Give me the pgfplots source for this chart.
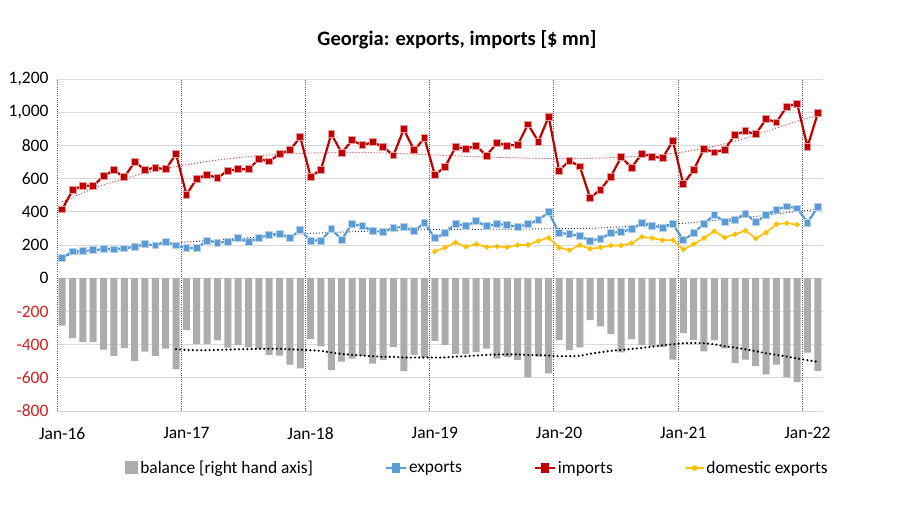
\documentclass[border=0pt]{standalone}
\usepackage{pgfplots}
\pgfplotsset{compat=1.18}
\usepackage{pgfplotstable}
\usepackage{fontspec}
\setmainfont{Carlito}
\definecolor{imp}{HTML}{C00000}
\definecolor{expc}{HTML}{5B9BD5}
\definecolor{dom}{HTML}{FFC000}
\definecolor{bal}{HTML}{AEABAB}
\definecolor{negred}{HTML}{D42020}
\definecolor{gridc}{HTML}{D9D9D9}
\definecolor{navy}{HTML}{1F3A6E}

\pgfplotstableread{
x imp exp dom bal
0 415 122 nan -285
1 530 161 nan -361
2 558 163 nan -385
3 556 169 nan -385
4 616 175 nan -431
5 650 173 nan -468
6 608 179 nan -421
7 700 189 nan -498
8 654 205 nan -443
9 666 197 nan -468
10 656 221 nan -425
11 748 197 nan -548
12 504 181 nan -313
13 598 181 nan -395
14 624 227 nan -395
15 604 215 nan -375
16 648 219 nan -419
17 656 241 nan -403
18 656 217 nan -417
19 718 241 nan -425
20 704 263 nan -462
21 748 267 nan -466
22 772 243 nan -520
23 849 289 nan -544
24 612 227 nan -367
25 654 227 nan -411
26 869 295 nan -554
27 754 233 nan -502
28 831 327 nan -484
29 801 315 nan -468
30 819 283 nan -514
31 791 281 nan -492
32 740 303 nan -413
33 897 309 nan -560
34 771 283 nan -462
35 843 335 nan -476
36 622 241 161 -377
37 672 271 185 -401
38 789 329 215 -458
39 781 315 189 -456
40 795 343 205 -446
41 739 313 187 -425
42 815 327 191 -484
43 799 321 187 -476
44 803 309 199 -492
45 927 325 201 -598
46 823 351 225 -472
47 973 397 243 -574
48 648 271 185 -373
49 708 267 169 -433
50 674 253 199 -417
51 484 227 177 -253
52 534 237 185 -291
53 612 273 197 -335
54 730 279 197 -447
55 666 295 211 -367
56 751 333 249 -403
57 732 317 241 -407
58 724 305 229 -413
59 827 327 229 -490
60 566 229 173 -331
61 652 271 205 -371
62 779 329 241 -441
63 758 381 283 -373
64 775 341 245 -423
65 865 353 265 -510
66 885 389 287 -490
67 867 339 239 -530
68 959 379 275 -580
69 939 413 325 -520
70 1034 433 331 -598
71 1052 421 323 -626
72 791 335 nan -449
73 995 429 nan -558
}\data

\pgfplotstableread{
x y
0 459
3 540
6 600
9 648
12 684
15 712
18 732
21 746
24 754
27 757
30 756
33 750
36 742
39 734
42 728
45 723
48 720
51 722
54 729
57 740
60 760
63 795
66 843
69 905
72 964
73 977
}\imptrend

\pgfplotstableread{
x y
0 131
3 163
7.5 195
11.4 215
17.5 241
23 267
29.5 283
35.8 293
42.3 295
48.8 299
51.3 301
54.5 311
57.7 321
60.9 335
64.1 355
67.4 375
70.6 399
73 415
}\exptrend

\pgfplotstableread{
x y
11 -428
12 -432
13 -434
14 -434
15 -432
16 -430
17 -428
18 -427
19 -426
20 -425
21 -425
22 -428
23 -431
24 -434
25 -438
26 -448
27 -456
28 -462
29 -466
30 -470
31 -474
32 -474
33 -478
34 -478
35 -478
36 -478
37 -478
38 -472
39 -470
40 -466
41 -462
42 -460
43 -459
44 -459
45 -463
46 -463
47 -466
48 -470
49 -470
50 -468
51 -455
52 -446
53 -438
54 -432
55 -426
56 -420
57 -413
58 -404
59 -398
60 -392
61 -390
62 -392
63 -398
64 -410
65 -418
66 -428
67 -440
68 -452
69 -462
70 -472
71 -484
72 -494
73 -504
}\balma

\begin{document}
\begin{tikzpicture}[x=1bp,y=1bp]
\useasboundingbox (0,0) rectangle (900,510);
\fill[white] (0,0) rectangle (900,510);
\node[font=\bfseries\fontsize{20.5bp}{24bp}\selectfont] at (457,470) {Georgia: exports, imports [\$ mn]};
\begin{axis}[
  at={(57bp,99bp)}, anchor=south west,
  scale only axis, width=766bp, height=332bp,
  xmin=-0.5, xmax=73.5, ymin=-800, ymax=1200,
  axis line style={draw=none},
  tick style={draw=none},
  ymajorgrids, grid style={gridc, line width=0.8bp},
  ytick={-800,-600,...,1200},
  yticklabels={\textcolor{negred}{-800},\textcolor{negred}{-600},\textcolor{negred}{-400},\textcolor{negred}{-200},0,200,400,600,800,{1,000},{1,200}},
  xtick={0,12,24,36,48,60,72},
  xticklabels={Jan-16,Jan-17,Jan-18,Jan-19,Jan-20,Jan-21,Jan-22},
  extra x ticks={-0.5,11.5,23.5,35.5,47.5,59.5,71.5},
  extra x tick labels={},
  extra x tick style={grid=major, major grid style={gray!75!black, line width=1bp, dash pattern=on 1bp off 1.2bp}},
  ticklabel style={font=\fontsize{17.5bp}{20bp}\selectfont},
  yticklabel style={xshift=-5bp},
  xticklabel style={yshift=-13bp},
  legend columns=4,
  legend style={at={(0.549,-0.172)}, anchor=center, draw=none, fill=none,
    font=\fontsize{17.4bp}{20bp}\selectfont,
    /tikz/every even column/.append style={column sep=70bp}},
  legend cell align=left,
]
\addplot[ybar, bar width=7bp, fill=bal, draw=none,
  legend image code/.code={\fill[bal] (0bp,-6bp) rectangle (13bp,7bp);}]
  table[x=x,y=bal]{\data};
\addlegendentry{balance [right hand axis]}
\addplot[navy, line width=0.9bp, dash pattern=on 1bp off 2bp, smooth, forget plot] table{\exptrend};
\addplot[imp!80, line width=0.9bp, dash pattern=on 1bp off 2bp, smooth, forget plot] table{\imptrend};
\addplot[black, line width=2.4bp, line cap=round, dash pattern=on 0bp off 4.2bp, forget plot] table{\balma};
\addplot[expc, line width=2.2bp, mark=square*, mark size=3.4bp,
  mark options={fill=expc, draw=expc!45, line width=0.8bp, solid},
  legend image code/.code={\draw[expc, line width=2bp] (0bp,0bp)--(20bp,0bp); \fill[expc] (7bp,-3.5bp) rectangle (13bp,3.5bp);}]
  table[x=x,y=exp]{\data};
\addlegendentry{exports}
\addplot[imp, line width=2.2bp, mark=square*, mark size=3.4bp,
  mark options={fill=imp, draw=imp!40, line width=0.8bp, solid},
  legend image code/.code={\draw[imp, line width=2bp] (0bp,0bp)--(20bp,0bp); \fill[imp] (7bp,-3.5bp) rectangle (13bp,3.5bp);}]
  table[x=x,y=imp]{\data};
\addlegendentry{imports}
\addplot[dom, line width=1.6bp, mark=*, mark size=1.8bp,
  mark options={fill=dom, draw=dom, solid},
  legend image code/.code={\draw[dom, line width=1.5bp] (0bp,0bp)--(18bp,0bp); \fill[dom] (9bp,0bp) circle (2bp);}]
  table[x=x,y=dom]{\data};
\addlegendentry{domestic exports}
\end{axis}
\end{tikzpicture}
\end{document}
